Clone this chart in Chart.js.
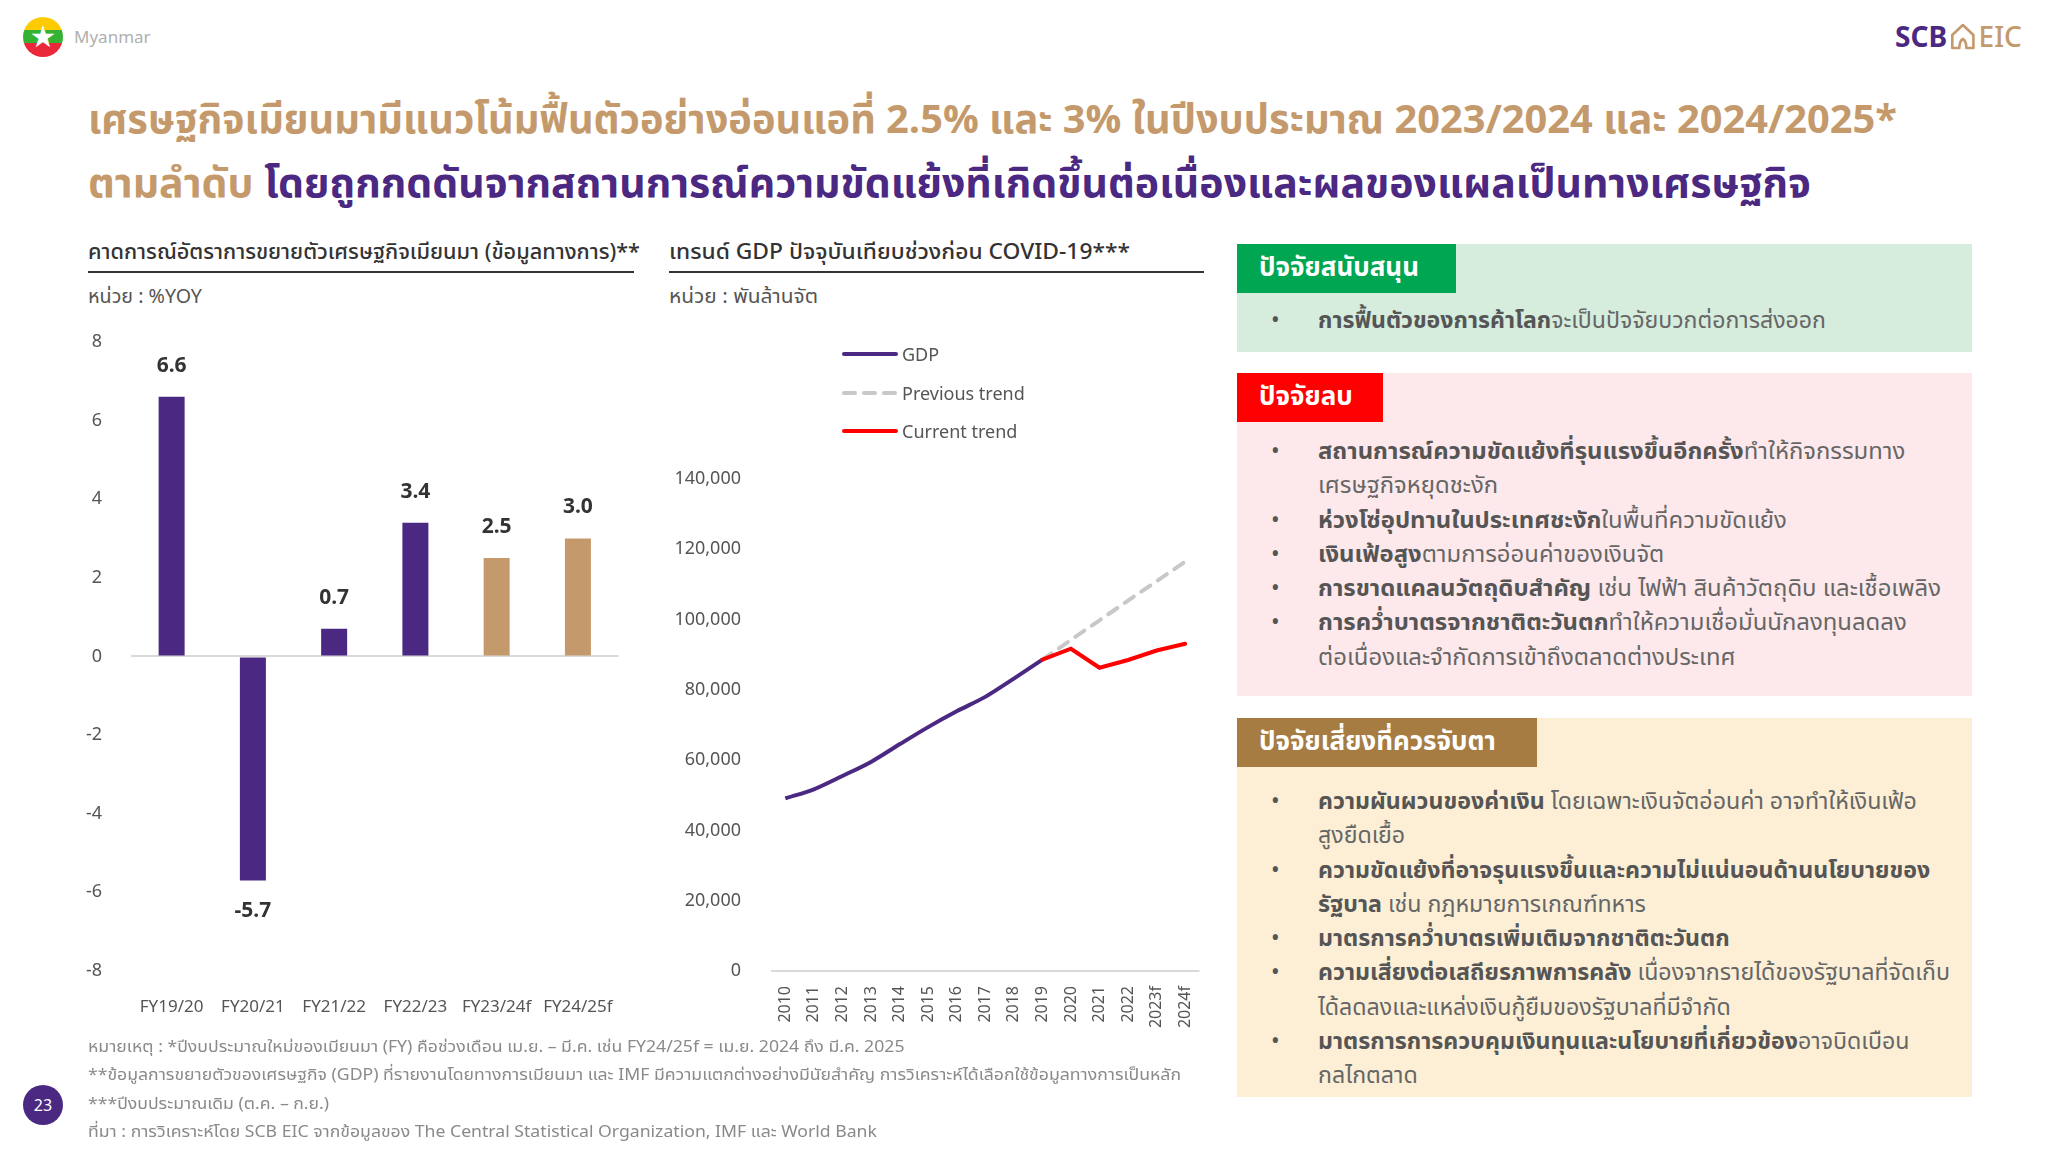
<!DOCTYPE html>
<html lang="th">
<head>
<meta charset="utf-8">
<title>Myanmar GDP</title>
<script src="https://cdn.jsdelivr.net/npm/chart.js@4.4.1/dist/chart.umd.min.js"></script>
<style>
  html, body { margin: 0; padding: 0; background: #fff; }
  body { width: 2048px; height: 1152px; position: relative; overflow: hidden;
         font-family: "Noto Sans Thai", "Noto Sans Thai UI", "Noto Sans", sans-serif; color: #555; }
  .abs { position: absolute; }
  .fit { white-space: nowrap; transform-origin: left top; display: inline-block; }
  .flag { left: 23px; top: 17px; width: 40px; height: 40px; border-radius: 50%;
          background: linear-gradient(#fecb00 0 33%, #34b233 33% 66%, #ea2839 66% 100%);
          color: #fff; font: 30px/40px "DejaVu Sans"; text-align: center; }
  .country { left: 74px; top: 25px; font-size: 17px; color: #b0b0b0; }
  .logo { left: 1895px; top: 16px; font: 28px/40px "Noto Sans", sans-serif; }
  .logo svg { vertical-align: -3px; margin: 0 2px; }
  .title { left: 88px; font-weight: 700; font-size: 40px; line-height: 50px; }
  .tan { color: #c49a6c; }
  .purple { color: #4b2882; }
  .ctitle { font-size: 22px; font-weight: 500; color: #333; top: 236px; }
  .rule { height: 2px; background: #333; top: 271px; }
  .unit { font-size: 19px; color: #555; top: 283px; }
  .chartbox { position: absolute; }
  .legend { left: 842px; top: 335px; font: 18px "Noto Sans", sans-serif; color: #555; }
  .legend div { display: flex; align-items: center; height: 38.5px; }
  .legend svg { margin-right: 4px; }
  .panel { position: absolute; left: 1237px; width: 735px; }
  .phead { position: absolute; left: 0; top: 0; height: 49px; color: #fff; font-weight: 700;
           font-size: 26px; line-height: 49px; padding-left: 22px; box-sizing: border-box; }
  .pbody { position: absolute; left: 34px; font-size: 23px; line-height: 34.3px; color: #666; }
  .pbody .row { position: relative; padding-left: var(--ind, 47px); }
  .pbody .row::before { content: "•"; position: absolute; left: 0; color: #555;
                        transform: scaleX(var(--inv, 1)); transform-origin: left center; }
  .pbody b { color: #555; font-weight: 700; }
  .notes { left: 88px; top: 1033px; font-size: 16px; line-height: 28.3px; color: #8a8a8a; }
  .page { left: 23px; top: 1085px; width: 40px; height: 40px; border-radius: 50%; background: #4b2882;
          color: #fff; font: 16px/40px "Noto Sans", sans-serif; text-align: center; }
</style>
</head>
<body>
<div class="abs flag">★</div>
<div class="abs country">Myanmar</div>
<div class="abs logo"><span class="fit" data-w="127"><b class="purple">SCB</b><svg width="27" height="27" viewBox="0 0 27 27"><path d="M3 25 V12 L13.5 2 L24 12 V25 H17 Q17 18 13.5 16 Q10 18 10 25 Z" fill="none" stroke="#c49a6c" stroke-width="2.6" stroke-linejoin="round"/></svg><span class="tan" style="font-weight:500">EIC</span></span></div>

<div class="abs title" style="top:96px"><span class="fit tan" data-w="1809">เศรษฐกิจเมียนมามีแนวโน้มฟื้นตัวอย่างอ่อนแอที่ 2.5% และ 3% ในปีงบประมาณ 2023/2024 และ 2024/2025*</span></div>
<div class="abs title" style="top:160px"><span class="fit" data-w="1723"><span class="tan">ตามลำดับ </span><span class="purple">โดยถูกกดดันจากสถานการณ์ความขัดแย้งที่เกิดขึ้นต่อเนื่องและผลของแผลเป็นทางเศรษฐกิจ</span></span></div>

<div class="abs ctitle" style="left:88px"><span class="fit" data-w="552">คาดการณ์อัตราการขยายตัวเศรษฐกิจเมียนมา (ข้อมูลทางการ)**</span></div>
<div class="abs rule" style="left:88px;width:546px"></div>
<div class="abs unit" style="left:88px"><span class="fit" data-w="114">หน่วย : %YOY</span></div>

<div class="abs ctitle" style="left:669px"><span class="fit" data-w="461">เทรนด์ GDP ปัจจุบันเทียบช่วงก่อน COVID-19***</span></div>
<div class="abs rule" style="left:669px;width:535px"></div>
<div class="abs unit" style="left:669px"><span class="fit" data-w="149">หน่วย : พันล้านจัต</span></div>

<div class="chartbox" style="left:60px;top:302px;width:580px;height:735px"><canvas id="barChart"></canvas></div>
<div class="chartbox" style="left:660px;top:320px;width:560px;height:717px"><canvas id="lineChart"></canvas></div>
<div class="abs legend" id="legend"></div>

<div class="panel" style="top:244px;height:108px;background:#d6ecdc">
  <div class="phead" style="width:219px;background:#00a651">ปัจจัยสนับสนุน</div>
  <div class="pbody" style="top:60px"><div class="fit" data-w="508">
    <div class="row"><span class="ref"><b>การฟื้นตัวของการค้าโลก</b>จะเป็นปัจจัยบวกต่อการส่งออก</span></div>
  </div></div>
</div>

<div class="panel" style="top:373px;height:323px;background:#fde9eb">
  <div class="phead" style="width:146px;background:#ff0000">ปัจจัยลบ</div>
  <div class="pbody" style="top:62px"><div class="fit" data-w="623">
    <div class="row"><b>สถานการณ์ความขัดแย้งที่รุนแรงขึ้นอีกครั้ง</b>ทำให้กิจกรรมทาง<br>เศรษฐกิจหยุดชะงัก</div>
    <div class="row"><b>ห่วงโซ่อุปทานในประเทศชะงัก</b>ในพื้นที่ความขัดแย้ง</div>
    <div class="row"><b>เงินเฟ้อสูง</b>ตามการอ่อนค่าของเงินจัต</div>
    <div class="row"><span class="ref"><b>การขาดแคลนวัตถุดิบสำคัญ</b> เช่น ไฟฟ้า สินค้าวัตถุดิบ และเชื้อเพลิง</span></div>
    <div class="row"><b>การคว่ำบาตรจากชาติตะวันตก</b>ทำให้ความเชื่อมั่นนักลงทุนลดลง<br>ต่อเนื่องและจำกัดการเข้าถึงตลาดต่างประเทศ</div>
  </div></div>
</div>

<div class="panel" style="top:718px;height:379px;background:#fcefd6">
  <div class="phead" style="width:300px;background:#a67c43">ปัจจัยเสี่ยงที่ควรจับตา</div>
  <div class="pbody" style="top:67px"><div class="fit" data-w="632">
    <div class="row"><b>ความผันผวนของค่าเงิน</b> โดยเฉพาะเงินจัตอ่อนค่า อาจทำให้เงินเฟ้อ<br>สูงยืดเยื้อ</div>
    <div class="row"><b>ความขัดแย้งที่อาจรุนแรงขึ้นและความไม่แน่นอนด้านนโยบายของ<br>รัฐบาล</b> เช่น กฎหมายการเกณฑ์ทหาร</div>
    <div class="row"><b>มาตรการคว่ำบาตรเพิ่มเติมจากชาติตะวันตก</b></div>
    <div class="row"><span class="ref"><b>ความเสี่ยงต่อเสถียรภาพการคลัง</b> เนื่องจากรายได้ของรัฐบาลที่จัดเก็บ</span><br>ได้ลดลงและแหล่งเงินกู้ยืมของรัฐบาลที่มีจำกัด</div>
    <div class="row"><b>มาตรการการควบคุมเงินทุนและนโยบายที่เกี่ยวข้อง</b>อาจบิดเบือน<br>กลไกตลาด</div>
  </div></div>
</div>

<div class="abs notes"><div class="fit" data-w="1093">
  <div>หมายเหตุ : *ปีงบประมาณใหม่ของเมียนมา (FY) คือช่วงเดือน เม.ย. – มี.ค. เช่น FY24/25f = เม.ย. 2024 ถึง มี.ค. 2025</div>
  <div>**ข้อมูลการขยายตัวของเศรษฐกิจ (GDP) ที่รายงานโดยทางการเมียนมา และ IMF มีความแตกต่างอย่างมีนัยสำคัญ การวิเคราะห์ได้เลือกใช้ข้อมูลทางการเป็นหลัก</div>
  <div>***ปีงบประมาณเดิม (ต.ค. – ก.ย.)</div>
  <div>ที่มา : การวิเคราะห์โดย SCB EIC จากข้อมูลของ The Central Statistical Organization, IMF และ World Bank</div>
</div></div>
<div class="abs page">23</div>

<script>
// left chart: real GDP growth, %YoY
const fiscalYears = ["FY19/20", "FY20/21", "FY21/22", "FY22/23", "FY23/24f", "FY24/25f"];
const growth = [6.6, -5.7, 0.7, 3.4, 2.5, 3.0];
const growthTicks = [-8, -6, -4, -2, 0, 2, 4, 6, 8];

// right chart: GDP level, billion kyat
const years = ["2010", "2011", "2012", "2013", "2014", "2015", "2016", "2017", "2018", "2019", "2020", "2021", "2022", "2023f", "2024f"];
const gdp = [49100, 51700, 55500, 59500, 64500, 69400, 73900, 78000, 83200, 88600, null, null, null, null, null];
const previousTrend = [null, null, null, null, null, null, null, null, null, 88600, 94200, 99800, 105400, 110900, 116500];
const currentTrend = [null, null, null, null, null, null, null, null, null, 88600, 91700, 86300, 88500, 91200, 93100];
const gdpTicks = [0, 20000, 40000, 60000, 80000, 100000, 120000, 140000];

const PURPLE = "#4b2882", TAN = "#c49a6c";
const tickFont = { family: "Noto Sans", size: 18 };

const zeroLine = (ctx) => ctx.tick && ctx.tick.value === 0 ? "#d9d9d9" : "rgba(0,0,0,0)";

const barLabels = {
  id: "barLabels",
  afterDatasetsDraw(chart) {
    const ctx = chart.ctx;
    const meta = chart.getDatasetMeta(0);
    ctx.save();
    ctx.font = 'bold 21px "Noto Sans"';
    ctx.fillStyle = "#333";
    ctx.textAlign = "center";
    ctx.textBaseline = "middle";
    meta.data.forEach((bar, i) => {
      const v = growth[i];
      ctx.fillText(v.toFixed(1), bar.x, v >= 0 ? bar.y - 31 : bar.y + 30);
    });
    ctx.restore();
  }
};

new Chart(document.getElementById("barChart"), {
  type: "bar",
  data: {
    labels: fiscalYears,
    datasets: [{
      data: growth,
      backgroundColor: fiscalYears.map(l => l.endsWith("f") ? TAN : PURPLE),
      barPercentage: 0.32,
      categoryPercentage: 1
    }]
  },
  options: {
    responsive: true,
    maintainAspectRatio: false,
    animation: false,
    layout: { padding: { top: 0, right: 16, left: 0, bottom: 0 } },
    plugins: { legend: { display: false }, tooltip: { enabled: false } },
    scales: {
      x: {
        grid: { display: false, drawTicks: false },
        border: { display: false },
        ticks: { font: { family: "Noto Sans", size: 17 }, color: "#555", padding: 26, maxRotation: 0, autoSkip: false },
        afterFit: s => { s.height = 66; }
      },
      y: {
        min: -8, max: 8,
        afterBuildTicks: s => { s.ticks = growthTicks.map(v => ({ value: v })); },
        grid: { color: zeroLine, lineWidth: 2, drawTicks: false },
        border: { display: false },
        ticks: { font: tickFont, color: "#555", padding: 29 },
        afterFit: s => { s.width = 71; }
      }
    }
  },
  plugins: [barLabels]
});

const lineChart = new Chart(document.getElementById("lineChart"), {
  type: "line",
  data: {
    labels: years,
    datasets: [
      { label: "GDP", data: gdp, borderColor: PURPLE, borderWidth: 4, tension: 0.3, pointRadius: 0, order: 1 },
      { label: "Previous trend", data: previousTrend, borderColor: "#c8c8c8", borderWidth: 4, borderDash: [11, 9], borderCapStyle: "round", pointRadius: 0, order: 2 },
      { label: "Current trend", data: currentTrend, borderColor: "#ff0000", borderWidth: 4, borderCapStyle: "round", pointRadius: 0, order: 0 }
    ]
  },
  options: {
    responsive: true,
    maintainAspectRatio: false,
    animation: false,
    layout: { padding: { top: 159, right: 18, left: 0, bottom: 0 } },
    plugins: { legend: { display: false }, tooltip: { enabled: false } },
    scales: {
      x: {
        offset: true,
        grid: { display: false, drawTicks: false },
        border: { display: false },
        ticks: { font: { family: "Noto Sans", size: 16 }, color: "#555", padding: 15, minRotation: 90, maxRotation: 90, autoSkip: false },
        afterFit: s => { s.height = 66; }
      },
      y: {
        min: 0, max: 140000,
        afterBuildTicks: s => { s.ticks = gdpTicks.map(v => ({ value: v })); },
        grid: { color: zeroLine, lineWidth: 2, drawTicks: false },
        border: { display: false },
        ticks: { font: tickFont, color: "#555", padding: 30, callback: v => v.toLocaleString("en-US") },
        afterFit: s => { s.width = 111; }
      }
    }
  }
});

// html legend built from the line datasets (vertical list as in the original)
const legend = document.getElementById("legend");
[0, 1, 2].forEach(i => {
  const ds = lineChart.data.datasets[i];
  const dash = ds.borderDash ? ds.borderDash.join(",") : "none";
  const row = document.createElement("div");
  row.innerHTML = `<svg width="56" height="8"><line x1="2" y1="4" x2="54" y2="4" stroke="${ds.borderColor}" stroke-width="4" stroke-linecap="round" stroke-dasharray="${dash}"/></svg><span>${ds.label}</span>`;
  legend.appendChild(row);
});

// squeeze text blocks to the widths of the original condensed font
function fitAll() {
  document.querySelectorAll(".fit").forEach(el => {
    el.style.transform = "none";
    const ref = el.querySelector(".ref") || el;
    const w = ref.getBoundingClientRect().width;
    const target = +el.dataset.w;
    if (!(w > 0 && target)) return;
    const s = target / w;
    // keep bullet indent and bullet shape unscaled
    el.style.setProperty("--ind", (47 / s) + "px");
    el.style.setProperty("--inv", 1 / s);
    el.style.transform = `scaleX(${s})`;
  });
}
document.fonts.ready.then(fitAll);
fitAll();
</script>
</body>
</html>
